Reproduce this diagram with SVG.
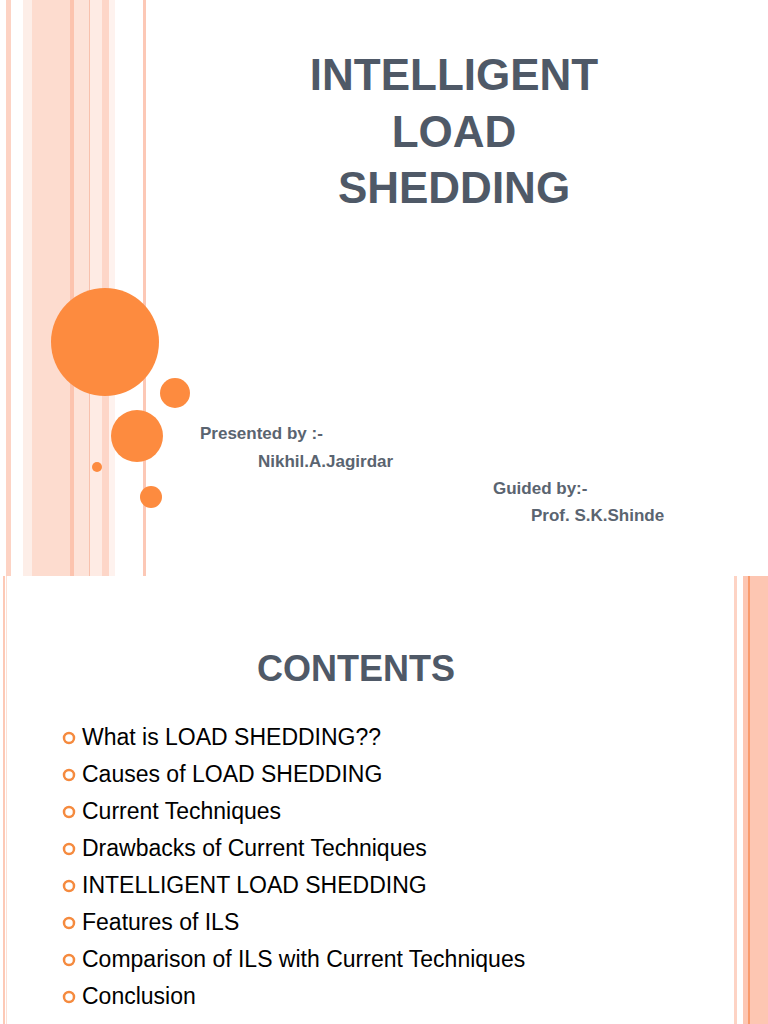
<svg xmlns="http://www.w3.org/2000/svg" width="768" height="1024" viewBox="0 0 768 1024">
<style>
.t{font-family:"Liberation Sans",Arial,sans-serif;font-weight:bold;fill:#4f5967}
.s{font-family:"Liberation Sans",Arial,sans-serif;font-weight:bold;fill:#5a6470;font-size:17px}
.b{font-family:"Liberation Sans",Arial,sans-serif;fill:#000;font-size:23px}
.c{fill:#fd8b3f}
.bu{fill:none;stroke:#f58a3e;stroke-width:2.5}
</style>
<rect width="768" height="1024" fill="#fff"/>
<g id="stripes1">
<rect x="6" y="0" width="5" height="576" fill="#fdd3c4"/>
<rect x="23" y="0" width="9" height="576" fill="#fdeee8"/>
<rect x="32" y="0" width="38" height="576" fill="#fddccf"/>
<rect x="70" y="0" width="4" height="576" fill="#fcc3ae"/>
<rect x="74" y="0" width="15" height="576" fill="#fde3d9"/>
<rect x="89" y="0" width="1" height="576" fill="#f8c1ad"/>
<rect x="90" y="0" width="12" height="576" fill="#feebe4"/>
<rect x="102" y="0" width="7" height="576" fill="#fdd6c8"/>
<rect x="109" y="0" width="6" height="576" fill="#fef2ee"/>
<rect x="143" y="0" width="3" height="576" fill="#fcc8b6"/>
</g>
<g id="circles">
<circle class="c" cx="105" cy="342" r="54"/>
<circle class="c" cx="175" cy="393" r="15"/>
<circle class="c" cx="137" cy="436" r="26"/>
<circle class="c" cx="97" cy="467" r="5"/>
<circle class="c" cx="151" cy="497" r="11"/>
</g>
<g id="title">
<text class="t" x="454" y="90" font-size="44" text-anchor="middle">INTELLIGENT</text>
<text class="t" x="454" y="147" font-size="44" text-anchor="middle">LOAD</text>
<text class="t" x="454" y="203" font-size="44" text-anchor="middle">SHEDDING</text>
</g>
<g id="credits">
<text class="s" x="200" y="439">Presented by :-</text>
<text class="s" x="258" y="467">Nikhil.A.Jagirdar</text>
<text class="s" x="493" y="494">Guided by:-</text>
<text class="s" x="531" y="521">Prof. S.K.Shinde</text>
</g>
<g id="stripes2">
<rect x="3" y="576" width="2" height="448" fill="#fdc9b6"/>
<rect x="6" y="576" width="1" height="448" fill="#fde0d5"/>
<rect x="734" y="576" width="3" height="448" fill="#fdd3c4"/>
<rect x="743" y="576" width="25" height="448" fill="#fdc6b2"/>
<rect x="748" y="576" width="2" height="448" fill="#f99a6c"/>
</g>
<g id="contents">
<text class="t" x="356" y="681" font-size="36" text-anchor="middle">CONTENTS</text>
<g>
<circle class="bu" cx="69" cy="738" r="5"/><text class="b" x="82" y="745">What is LOAD SHEDDING??</text>
<circle class="bu" cx="69" cy="775" r="5"/><text class="b" x="82" y="782">Causes of LOAD SHEDDING</text>
<circle class="bu" cx="69" cy="812" r="5"/><text class="b" x="82" y="819">Current Techniques</text>
<circle class="bu" cx="69" cy="849" r="5"/><text class="b" x="82" y="856">Drawbacks of Current Techniques</text>
<circle class="bu" cx="69" cy="886" r="5"/><text class="b" x="82" y="893">INTELLIGENT LOAD SHEDDING</text>
<circle class="bu" cx="69" cy="923" r="5"/><text class="b" x="82" y="930">Features of ILS</text>
<circle class="bu" cx="69" cy="960" r="5"/><text class="b" x="82" y="967">Comparison of ILS with Current Techniques</text>
<circle class="bu" cx="69" cy="997" r="5"/><text class="b" x="82" y="1004">Conclusion</text>
</g>
</g>
</svg>
